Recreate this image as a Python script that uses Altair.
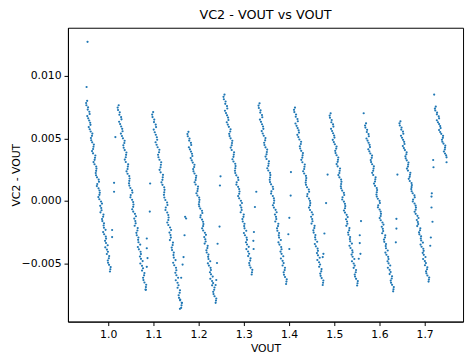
import altair as alt
import pandas as pd

# ---- data (VOUT, VC2 - VOUT) ----
# each falling stripe is listed as two interleaved passes (A and B)
B1_X = [0.9535, 0.9518, 0.9547, 0.9590, 0.9558, 0.9602, 0.9570, 0.9613, 0.9641, 0.9625, 0.9683, 0.9666, 0.9665, 0.9708, 0.9676, 0.9735, 0.9733, 0.9731, 0.9789, 0.9758, 0.9786, 0.9814, 0.9783, 0.9841, 0.9824, 0.9853, 0.9896, 0.9864, 0.9907, 0.9906, 0.9889, 0.9947, 0.9931, 0.9989, 0.9972, 0.9970, 1.0014, 0.9997, 1.0055, 1.0039]
B1_Y = [0.00800, 0.00765, 0.00730, 0.00695, 0.00660, 0.00625, 0.00590, 0.00555, 0.00520, 0.00485, 0.00450, 0.00415, 0.00380, 0.00345, 0.00310, 0.00275, 0.00240, 0.00205, 0.00170, 0.00135, 0.00100, 0.00065, 0.00030, -0.00005, -0.00040, -0.00075, -0.00110, -0.00145, -0.00180, -0.00215, -0.00250, -0.00285, -0.00320, -0.00355, -0.00390, -0.00425, -0.00460, -0.00495, -0.00530, -0.00565]
B1B_X = [0.9512, 0.9555, 0.9583, 0.9537, 0.9580, 0.9608, 0.9592, 0.9650, 0.9618, 0.9646, 0.9675, 0.9643, 0.9716, 0.9700, 0.9698, 0.9741, 0.9725, 0.9753, 0.9796, 0.9749, 0.9808, 0.9806, 0.9804, 0.9863, 0.9846, 0.9829, 0.9888, 0.9871, 0.9899, 0.9942, 0.9911, 0.9954, 0.9952, 0.9936, 0.9994, 1.0022, 0.9991, 1.0019, 1.0047]
B1B_Y = [0.00783, 0.00748, 0.00713, 0.00678, 0.00643, 0.00608, 0.00573, 0.00538, 0.00503, 0.00468, 0.00433, 0.00398, 0.00363, 0.00328, 0.00293, 0.00258, 0.00223, 0.00188, 0.00153, 0.00118, 0.00083, 0.00048, 0.00013, -0.00022, -0.00057, -0.00092, -0.00127, -0.00162, -0.00197, -0.00232, -0.00267, -0.00302, -0.00337, -0.00372, -0.00407, -0.00442, -0.00477, -0.00512, -0.00547]

B2_X = [1.0232, 1.0218, 1.0248, 1.0294, 1.0264, 1.0310, 1.0281, 1.0326, 1.0357, 1.0343, 1.0403, 1.0389, 1.0389, 1.0435, 1.0406, 1.0466, 1.0467, 1.0468, 1.0528, 1.0499, 1.0529, 1.0560, 1.0531, 1.0591, 1.0577, 1.0608, 1.0653, 1.0624, 1.0669, 1.0670, 1.0656, 1.0716, 1.0702, 1.0762, 1.0748, 1.0749, 1.0794, 1.0780, 1.0841, 1.0826]
B2_Y = [0.00765, 0.00727, 0.00689, 0.00652, 0.00614, 0.00576, 0.00538, 0.00500, 0.00463, 0.00425, 0.00387, 0.00349, 0.00311, 0.00274, 0.00236, 0.00198, 0.00160, 0.00122, 0.00085, 0.00047, 0.00009, -0.00029, -0.00067, -0.00104, -0.00142, -0.00180, -0.00218, -0.00256, -0.00293, -0.00331, -0.00369, -0.00407, -0.00445, -0.00482, -0.00520, -0.00558, -0.00596, -0.00634, -0.00671, -0.00710]
B2B_X = [1.0210, 1.0256, 1.0286, 1.0242, 1.0287, 1.0318, 1.0304, 1.0364, 1.0335, 1.0366, 1.0396, 1.0367, 1.0442, 1.0428, 1.0429, 1.0474, 1.0460, 1.0491, 1.0536, 1.0492, 1.0552, 1.0553, 1.0554, 1.0614, 1.0600, 1.0586, 1.0646, 1.0632, 1.0662, 1.0708, 1.0679, 1.0724, 1.0725, 1.0711, 1.0771, 1.0802, 1.0772, 1.0803, 1.0834]
B2B_Y = [0.00746, 0.00708, 0.00670, 0.00633, 0.00595, 0.00557, 0.00519, 0.00481, 0.00444, 0.00406, 0.00368, 0.00330, 0.00292, 0.00255, 0.00217, 0.00179, 0.00141, 0.00103, 0.00066, 0.00028, -0.00010, -0.00048, -0.00086, -0.00123, -0.00161, -0.00199, -0.00237, -0.00275, -0.00312, -0.00350, -0.00388, -0.00426, -0.00464, -0.00501, -0.00539, -0.00577, -0.00615, -0.00653, -0.00690]

B3_X = [1.0995, 1.0981, 1.1013, 1.1059, 1.1030, 1.1076, 1.1048, 1.1094, 1.1125, 1.1112, 1.1173, 1.1159, 1.1160, 1.1207, 1.1178, 1.1239, 1.1240, 1.1242, 1.1303, 1.1274, 1.1306, 1.1337, 1.1308, 1.1369, 1.1356, 1.1387, 1.1433, 1.1405, 1.1451, 1.1452, 1.1438, 1.1500, 1.1486, 1.1547, 1.1534, 1.1535, 1.1581, 1.1567, 1.1629, 1.1615]
B3_Y = [0.00710, 0.00670, 0.00630, 0.00590, 0.00549, 0.00509, 0.00469, 0.00429, 0.00389, 0.00349, 0.00309, 0.00268, 0.00228, 0.00188, 0.00148, 0.00108, 0.00068, 0.00027, -0.00013, -0.00053, -0.00093, -0.00133, -0.00173, -0.00213, -0.00254, -0.00294, -0.00334, -0.00374, -0.00414, -0.00454, -0.00495, -0.00535, -0.00575, -0.00615, -0.00655, -0.00695, -0.00735, -0.00776, -0.00816, -0.00856]
B3B_X = [1.0973, 1.1019, 1.1051, 1.1007, 1.1053, 1.1084, 1.1071, 1.1132, 1.1103, 1.1135, 1.1166, 1.1137, 1.1213, 1.1200, 1.1201, 1.1247, 1.1233, 1.1265, 1.1311, 1.1267, 1.1329, 1.1330, 1.1331, 1.1392, 1.1379, 1.1365, 1.1426, 1.1413, 1.1444, 1.1490, 1.1461, 1.1508, 1.1509, 1.1495, 1.1556, 1.1588, 1.1559, 1.1590, 1.1622]
B3B_Y = [0.00690, 0.00650, 0.00610, 0.00570, 0.00529, 0.00489, 0.00449, 0.00409, 0.00369, 0.00329, 0.00289, 0.00248, 0.00208, 0.00168, 0.00128, 0.00088, 0.00048, 0.00007, -0.00033, -0.00073, -0.00113, -0.00153, -0.00193, -0.00233, -0.00274, -0.00314, -0.00354, -0.00394, -0.00434, -0.00474, -0.00515, -0.00555, -0.00595, -0.00635, -0.00675, -0.00715, -0.00755, -0.00796, -0.00836]

B4_X = [1.1775, 1.1761, 1.1792, 1.1837, 1.1808, 1.1854, 1.1825, 1.1871, 1.1902, 1.1887, 1.1948, 1.1934, 1.1935, 1.1981, 1.1951, 1.2012, 1.2013, 1.2014, 1.2075, 1.2046, 1.2076, 1.2107, 1.2078, 1.2139, 1.2125, 1.2156, 1.2201, 1.2172, 1.2218, 1.2219, 1.2205, 1.2265, 1.2251, 1.2312, 1.2298, 1.2299, 1.2345, 1.2330, 1.2391, 1.2377]
B4_Y = [0.00552, 0.00517, 0.00482, 0.00447, 0.00412, 0.00377, 0.00342, 0.00306, 0.00271, 0.00236, 0.00201, 0.00166, 0.00131, 0.00096, 0.00061, 0.00026, -0.00009, -0.00044, -0.00079, -0.00115, -0.00150, -0.00185, -0.00220, -0.00255, -0.00290, -0.00325, -0.00360, -0.00395, -0.00430, -0.00465, -0.00500, -0.00536, -0.00571, -0.00606, -0.00641, -0.00676, -0.00711, -0.00746, -0.00781, -0.00816]
B4B_X = [1.1753, 1.1799, 1.1830, 1.1785, 1.1831, 1.1862, 1.1848, 1.1909, 1.1880, 1.1910, 1.1941, 1.1912, 1.1988, 1.1974, 1.1974, 1.2020, 1.2006, 1.2037, 1.2083, 1.2039, 1.2099, 1.2100, 1.2101, 1.2162, 1.2148, 1.2134, 1.2194, 1.2180, 1.2211, 1.2257, 1.2228, 1.2273, 1.2274, 1.2260, 1.2321, 1.2352, 1.2323, 1.2353, 1.2384]
B4B_Y = [0.00535, 0.00499, 0.00464, 0.00429, 0.00394, 0.00359, 0.00324, 0.00289, 0.00254, 0.00219, 0.00184, 0.00149, 0.00114, 0.00078, 0.00043, 0.00008, -0.00027, -0.00062, -0.00097, -0.00132, -0.00167, -0.00202, -0.00237, -0.00272, -0.00307, -0.00342, -0.00378, -0.00413, -0.00448, -0.00483, -0.00518, -0.00553, -0.00588, -0.00623, -0.00658, -0.00693, -0.00728, -0.00763, -0.00798]

B5_X = [1.2573, 1.2559, 1.2590, 1.2635, 1.2606, 1.2652, 1.2623, 1.2669, 1.2699, 1.2685, 1.2746, 1.2732, 1.2732, 1.2778, 1.2749, 1.2810, 1.2811, 1.2811, 1.2872, 1.2843, 1.2874, 1.2905, 1.2875, 1.2936, 1.2922, 1.2953, 1.2999, 1.2969, 1.3015, 1.3016, 1.3002, 1.3062, 1.3048, 1.3109, 1.3095, 1.3096, 1.3141, 1.3127, 1.3188, 1.3174]
B5_Y = [0.00850, 0.00813, 0.00776, 0.00739, 0.00702, 0.00666, 0.00629, 0.00592, 0.00555, 0.00518, 0.00481, 0.00444, 0.00407, 0.00370, 0.00333, 0.00297, 0.00260, 0.00223, 0.00186, 0.00149, 0.00112, 0.00075, 0.00038, 0.00001, -0.00036, -0.00073, -0.00109, -0.00146, -0.00183, -0.00220, -0.00257, -0.00294, -0.00331, -0.00368, -0.00405, -0.00442, -0.00478, -0.00515, -0.00552, -0.00589]
B5B_X = [1.2551, 1.2597, 1.2628, 1.2583, 1.2629, 1.2660, 1.2646, 1.2707, 1.2677, 1.2708, 1.2739, 1.2710, 1.2785, 1.2771, 1.2772, 1.2818, 1.2804, 1.2834, 1.2880, 1.2836, 1.2897, 1.2898, 1.2898, 1.2959, 1.2945, 1.2931, 1.2992, 1.2977, 1.3008, 1.3054, 1.3025, 1.3070, 1.3071, 1.3057, 1.3118, 1.3149, 1.3119, 1.3150, 1.3181]
B5B_Y = [0.00832, 0.00795, 0.00758, 0.00721, 0.00684, 0.00647, 0.00610, 0.00573, 0.00536, 0.00500, 0.00463, 0.00426, 0.00389, 0.00352, 0.00315, 0.00278, 0.00241, 0.00204, 0.00167, 0.00130, 0.00094, 0.00057, 0.00020, -0.00017, -0.00054, -0.00091, -0.00128, -0.00165, -0.00202, -0.00239, -0.00275, -0.00312, -0.00349, -0.00386, -0.00423, -0.00460, -0.00497, -0.00534, -0.00571]

B6_X = [1.3348, 1.3333, 1.3364, 1.3409, 1.3380, 1.3425, 1.3396, 1.3441, 1.3472, 1.3457, 1.3517, 1.3503, 1.3503, 1.3549, 1.3519, 1.3580, 1.3580, 1.3580, 1.3641, 1.3611, 1.3642, 1.3672, 1.3643, 1.3703, 1.3689, 1.3719, 1.3764, 1.3735, 1.3780, 1.3781, 1.3766, 1.3827, 1.3812, 1.3873, 1.3858, 1.3858, 1.3904, 1.3889, 1.3950, 1.3935]
B6_Y = [0.00780, 0.00743, 0.00706, 0.00669, 0.00632, 0.00595, 0.00558, 0.00521, 0.00484, 0.00447, 0.00410, 0.00372, 0.00335, 0.00298, 0.00261, 0.00224, 0.00187, 0.00150, 0.00113, 0.00076, 0.00039, 0.00002, -0.00035, -0.00072, -0.00109, -0.00146, -0.00183, -0.00220, -0.00257, -0.00294, -0.00332, -0.00369, -0.00406, -0.00443, -0.00480, -0.00517, -0.00554, -0.00591, -0.00628, -0.00665]
B6B_X = [1.3326, 1.3371, 1.3402, 1.3357, 1.3403, 1.3433, 1.3419, 1.3479, 1.3450, 1.3480, 1.3510, 1.3481, 1.3556, 1.3542, 1.3542, 1.3588, 1.3573, 1.3603, 1.3649, 1.3604, 1.3665, 1.3665, 1.3666, 1.3726, 1.3712, 1.3697, 1.3757, 1.3743, 1.3773, 1.3819, 1.3789, 1.3835, 1.3835, 1.3821, 1.3881, 1.3911, 1.3882, 1.3912, 1.3943]
B6B_Y = [0.00762, 0.00724, 0.00687, 0.00650, 0.00613, 0.00576, 0.00539, 0.00502, 0.00465, 0.00428, 0.00391, 0.00354, 0.00317, 0.00280, 0.00243, 0.00206, 0.00169, 0.00132, 0.00095, 0.00058, 0.00020, -0.00017, -0.00054, -0.00091, -0.00128, -0.00165, -0.00202, -0.00239, -0.00276, -0.00313, -0.00350, -0.00387, -0.00424, -0.00461, -0.00498, -0.00535, -0.00572, -0.00609, -0.00646]

B7_X = [1.4132, 1.4118, 1.4149, 1.4195, 1.4167, 1.4213, 1.4184, 1.4230, 1.4261, 1.4247, 1.4308, 1.4294, 1.4296, 1.4342, 1.4313, 1.4374, 1.4375, 1.4376, 1.4437, 1.4408, 1.4440, 1.4471, 1.4442, 1.4503, 1.4489, 1.4520, 1.4566, 1.4538, 1.4584, 1.4585, 1.4571, 1.4632, 1.4618, 1.4679, 1.4665, 1.4667, 1.4713, 1.4699, 1.4760, 1.4746]
B7_Y = [0.00746, 0.00710, 0.00673, 0.00637, 0.00600, 0.00564, 0.00528, 0.00491, 0.00455, 0.00419, 0.00382, 0.00346, 0.00309, 0.00273, 0.00237, 0.00200, 0.00164, 0.00128, 0.00091, 0.00055, 0.00018, -0.00018, -0.00054, -0.00091, -0.00127, -0.00163, -0.00200, -0.00236, -0.00273, -0.00309, -0.00345, -0.00382, -0.00418, -0.00455, -0.00491, -0.00527, -0.00564, -0.00600, -0.00637, -0.00673]
B7B_X = [1.4110, 1.4156, 1.4187, 1.4143, 1.4190, 1.4221, 1.4207, 1.4268, 1.4239, 1.4270, 1.4301, 1.4272, 1.4349, 1.4335, 1.4336, 1.4382, 1.4368, 1.4399, 1.4445, 1.4401, 1.4463, 1.4464, 1.4465, 1.4526, 1.4512, 1.4498, 1.4559, 1.4546, 1.4577, 1.4623, 1.4594, 1.4640, 1.4641, 1.4627, 1.4688, 1.4720, 1.4691, 1.4722, 1.4753]
B7B_Y = [0.00728, 0.00691, 0.00655, 0.00619, 0.00582, 0.00546, 0.00510, 0.00473, 0.00437, 0.00400, 0.00364, 0.00328, 0.00291, 0.00255, 0.00219, 0.00182, 0.00146, 0.00109, 0.00073, 0.00037, 0.00000, -0.00036, -0.00073, -0.00109, -0.00145, -0.00182, -0.00218, -0.00254, -0.00291, -0.00327, -0.00364, -0.00400, -0.00436, -0.00473, -0.00509, -0.00546, -0.00582, -0.00618, -0.00655]

B8_X = [1.4921, 1.4906, 1.4937, 1.4982, 1.4953, 1.4998, 1.4968, 1.5014, 1.5044, 1.5030, 1.5090, 1.5076, 1.5076, 1.5121, 1.5092, 1.5152, 1.5153, 1.5153, 1.5213, 1.5184, 1.5214, 1.5245, 1.5215, 1.5275, 1.5261, 1.5291, 1.5337, 1.5307, 1.5352, 1.5353, 1.5338, 1.5399, 1.5384, 1.5445, 1.5430, 1.5430, 1.5476, 1.5461, 1.5522, 1.5507]
B8_Y = [0.00700, 0.00665, 0.00629, 0.00594, 0.00559, 0.00523, 0.00488, 0.00453, 0.00418, 0.00382, 0.00347, 0.00312, 0.00276, 0.00241, 0.00206, 0.00170, 0.00135, 0.00100, 0.00064, 0.00029, -0.00006, -0.00042, -0.00077, -0.00112, -0.00147, -0.00183, -0.00218, -0.00253, -0.00289, -0.00324, -0.00359, -0.00395, -0.00430, -0.00465, -0.00501, -0.00536, -0.00571, -0.00606, -0.00642, -0.00677]
B8B_X = [1.4899, 1.4944, 1.4974, 1.4930, 1.4975, 1.5006, 1.4991, 1.5052, 1.5022, 1.5053, 1.5083, 1.5053, 1.5129, 1.5114, 1.5115, 1.5160, 1.5146, 1.5176, 1.5221, 1.5177, 1.5237, 1.5238, 1.5238, 1.5298, 1.5284, 1.5269, 1.5330, 1.5315, 1.5346, 1.5391, 1.5361, 1.5407, 1.5407, 1.5393, 1.5453, 1.5483, 1.5454, 1.5484, 1.5515]
B8B_Y = [0.00682, 0.00647, 0.00612, 0.00576, 0.00541, 0.00506, 0.00470, 0.00435, 0.00400, 0.00365, 0.00329, 0.00294, 0.00259, 0.00223, 0.00188, 0.00153, 0.00117, 0.00082, 0.00047, 0.00011, -0.00024, -0.00059, -0.00094, -0.00130, -0.00165, -0.00200, -0.00236, -0.00271, -0.00306, -0.00342, -0.00377, -0.00412, -0.00447, -0.00483, -0.00518, -0.00553, -0.00589, -0.00624, -0.00659]

B9_X = [1.5704, 1.5690, 1.5721, 1.5766, 1.5737, 1.5783, 1.5754, 1.5799, 1.5830, 1.5816, 1.5877, 1.5862, 1.5863, 1.5909, 1.5880, 1.5941, 1.5941, 1.5942, 1.6003, 1.5974, 1.6004, 1.6035, 1.6006, 1.6067, 1.6052, 1.6083, 1.6129, 1.6100, 1.6146, 1.6146, 1.6132, 1.6193, 1.6179, 1.6239, 1.6225, 1.6226, 1.6272, 1.6257, 1.6318, 1.6304]
B9_Y = [0.00620, 0.00586, 0.00551, 0.00517, 0.00482, 0.00448, 0.00413, 0.00379, 0.00344, 0.00310, 0.00276, 0.00241, 0.00207, 0.00172, 0.00138, 0.00103, 0.00069, 0.00034, 0.00000, -0.00035, -0.00069, -0.00104, -0.00138, -0.00173, -0.00207, -0.00242, -0.00276, -0.00310, -0.00345, -0.00379, -0.00414, -0.00448, -0.00483, -0.00517, -0.00552, -0.00586, -0.00621, -0.00655, -0.00690, -0.00724]
B9B_X = [1.5682, 1.5728, 1.5759, 1.5714, 1.5760, 1.5791, 1.5777, 1.5837, 1.5808, 1.5839, 1.5870, 1.5840, 1.5916, 1.5902, 1.5903, 1.5949, 1.5934, 1.5965, 1.6011, 1.5967, 1.6027, 1.6028, 1.6029, 1.6090, 1.6075, 1.6061, 1.6122, 1.6108, 1.6139, 1.6184, 1.6155, 1.6201, 1.6202, 1.6187, 1.6248, 1.6279, 1.6250, 1.6280, 1.6311]
B9B_Y = [0.00603, 0.00568, 0.00534, 0.00499, 0.00465, 0.00430, 0.00396, 0.00362, 0.00327, 0.00293, 0.00258, 0.00224, 0.00189, 0.00155, 0.00120, 0.00086, 0.00051, 0.00017, -0.00017, -0.00052, -0.00086, -0.00121, -0.00155, -0.00190, -0.00224, -0.00259, -0.00293, -0.00328, -0.00362, -0.00397, -0.00431, -0.00466, -0.00500, -0.00535, -0.00569, -0.00603, -0.00638, -0.00672, -0.00707]

B10_X = [1.6465, 1.6451, 1.6483, 1.6529, 1.6500, 1.6547, 1.6518, 1.6564, 1.6596, 1.6582, 1.6643, 1.6630, 1.6631, 1.6677, 1.6649, 1.6710, 1.6711, 1.6713, 1.6774, 1.6745, 1.6777, 1.6808, 1.6779, 1.6841, 1.6827, 1.6858, 1.6905, 1.6876, 1.6922, 1.6924, 1.6910, 1.6971, 1.6958, 1.7019, 1.7005, 1.7007, 1.7053, 1.7039, 1.7101, 1.7087]
B10_Y = [0.00636, 0.00603, 0.00570, 0.00537, 0.00505, 0.00472, 0.00439, 0.00406, 0.00373, 0.00340, 0.00307, 0.00274, 0.00242, 0.00209, 0.00176, 0.00143, 0.00110, 0.00077, 0.00044, 0.00011, -0.00021, -0.00054, -0.00087, -0.00120, -0.00153, -0.00186, -0.00219, -0.00252, -0.00284, -0.00317, -0.00350, -0.00383, -0.00416, -0.00449, -0.00482, -0.00515, -0.00547, -0.00580, -0.00613, -0.00646]
B10B_X = [1.6443, 1.6489, 1.6521, 1.6477, 1.6523, 1.6555, 1.6541, 1.6602, 1.6574, 1.6605, 1.6636, 1.6608, 1.6684, 1.6670, 1.6672, 1.6718, 1.6704, 1.6736, 1.6782, 1.6738, 1.6800, 1.6801, 1.6802, 1.6864, 1.6850, 1.6836, 1.6898, 1.6884, 1.6915, 1.6962, 1.6933, 1.6979, 1.6981, 1.6967, 1.7028, 1.7060, 1.7031, 1.7062, 1.7094]
B10B_Y = [0.00620, 0.00587, 0.00554, 0.00521, 0.00488, 0.00455, 0.00422, 0.00389, 0.00357, 0.00324, 0.00291, 0.00258, 0.00225, 0.00192, 0.00159, 0.00126, 0.00094, 0.00061, 0.00028, -0.00005, -0.00038, -0.00071, -0.00104, -0.00137, -0.00169, -0.00202, -0.00235, -0.00268, -0.00301, -0.00334, -0.00367, -0.00400, -0.00432, -0.00465, -0.00498, -0.00531, -0.00564, -0.00597, -0.00630]

B11_X = [1.7247, 1.7236, 1.7271, 1.7320, 1.7295, 1.7344, 1.7319, 1.7368, 1.7403, 1.7392, 1.7457, 1.7446, 1.7451, 1.7485]
B11_Y = [0.00754, 0.00723, 0.00692, 0.00660, 0.00629, 0.00598, 0.00567, 0.00536, 0.00504, 0.00473, 0.00442, 0.00411, 0.00379, 0.00348]
B11B_X = [1.7227, 1.7276, 1.7311, 1.7270, 1.7320, 1.7354, 1.7344, 1.7408, 1.7383, 1.7417, 1.7452, 1.7426, 1.7476]
B11B_Y = [0.00738, 0.00707, 0.00676, 0.00645, 0.00614, 0.00582, 0.00551, 0.00520, 0.00489, 0.00458, 0.00426, 0.00395, 0.00364]

# scattered points between the stripes
OUT_X = [0.9543, 0.9522, 1.0159, 1.0130, 1.0130, 1.0087, 1.0087,
         1.0928, 1.0920, 1.0854, 1.0854, 1.0870, 1.0854, 1.0833,
         1.1702, 1.1724, 1.1689, 1.1667, 1.1646, 1.1615, 1.1593, 1.1630, 1.1587,
         1.2485, 1.2472, 1.2463, 1.2420, 1.2407, 1.2391, 1.2376,
         1.3276, 1.3246, 1.3224, 1.3211, 1.3217,
         1.4043, 1.4037, 1.4007, 1.3985, 1.4007,
         1.4854, 1.4820, 1.4783, 1.4761, 1.4746,
         1.5652, 1.5593, 1.5565, 1.5565, 1.5580, 1.5543,
         1.6398, 1.6376, 1.6376, 1.6363,
         1.7211, 1.7189, 1.7196, 1.7159, 1.7152, 1.7152, 1.7174, 1.7137, 1.7124, 1.7485]
OUT_Y = [0.01272, 0.00911, 0.00510, 0.00144, 0.00073, -0.00233, -0.00290,
         0.00139, -0.00086, -0.00301, -0.00379, -0.00458, -0.00528, -0.00712,
         -0.00128, -0.00141, -0.00275, -0.00450, -0.00510, -0.00615, -0.00790, -0.00816, -0.00864,
         0.00196, 0.00123, -0.00206, -0.00343, -0.00497, -0.00633, -0.00673,
         0.00073, -0.00049, -0.00249, -0.00320, -0.00385,
         0.00230, 0.00042, -0.00136, -0.00267, -0.00385,
         0.00210, -0.00018, -0.00261, -0.00424, -0.00450,
         0.00701, -0.00162, -0.00275, -0.00338, -0.00424, -0.00463,
         0.00210, -0.00144, -0.00222, -0.00332,
         0.00850, 0.00327, 0.00269, 0.00060, 0.00034, -0.00053, -0.00167, -0.00293, -0.00359, 0.00309]

X_TICKS = [1.0, 1.1, 1.2, 1.3, 1.4, 1.5, 1.6, 1.7]
Y_TICKS = [-0.005, 0.0, 0.005, 0.010]

xs = (B1_X + B1B_X + B2_X + B2B_X + B3_X + B3B_X + B4_X + B4B_X
      + B5_X + B5B_X + B6_X + B6B_X + B7_X + B7B_X + B8_X + B8B_X
      + B9_X + B9B_X + B10_X + B10B_X + B11_X + B11B_X + OUT_X)
ys = (B1_Y + B1B_Y + B2_Y + B2B_Y + B3_Y + B3B_Y + B4_Y + B4B_Y
      + B5_Y + B5B_Y + B6_Y + B6B_Y + B7_Y + B7B_Y + B8_Y + B8B_Y
      + B9_Y + B9B_Y + B10_Y + B10B_Y + B11_Y + B11B_Y + OUT_Y)
df = pd.DataFrame({"VOUT": xs, "DIFF": ys})

FONT = "DejaVu Sans"

chart = (
    alt.Chart(df)
    .mark_circle(size=5, color="#1f77b4", opacity=1)
    .encode(
        x=alt.X(
            "VOUT:Q",
            scale=alt.Scale(domain=[0.911, 1.785], nice=False, zero=False),
            axis=alt.Axis(values=X_TICKS, format=".1f", title="VOUT"),
        ),
        y=alt.Y(
            "DIFF:Q",
            scale=alt.Scale(domain=[-0.00966, 0.01385], nice=False, zero=False),
            axis=alt.Axis(values=Y_TICKS, format=".3f", title="VC2 - VOUT"),
        ),
    )
    .properties(
        width=402,
        height=299,
        title=alt.TitleParams("VC2 - VOUT vs VOUT", fontSize=13, font=FONT,
                              fontWeight="normal", color="black", offset=6,
                              anchor="middle"),
        autosize=alt.AutoSizeParams(type="none"),
        padding={"left": 61, "top": 17, "right": 3, "bottom": 38},
    )
    .configure_view(stroke="black", strokeWidth=1)
    .configure_axis(
        grid=False,
        domainColor="black",
        domainWidth=1,
        tickColor="black",
        tickSize=4,
        tickWidth=1,
        labelColor="black",
        labelFont=FONT,
        labelFontSize=11,
        labelPadding=3,
        titleFont=FONT,
        titleFontSize=11,
        titleFontWeight="normal",
        titleColor="black",
    )
    .configure_axisX(titlePadding=3)
    .configure_axisY(titlePadding=0)
)

chart.save("out.html", embed_options={"renderer": "svg", "actions": False})
